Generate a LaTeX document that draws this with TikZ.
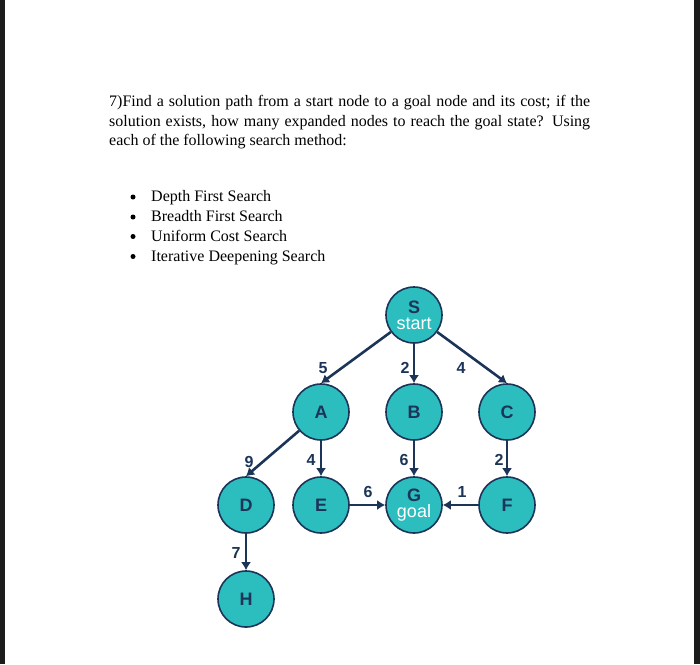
\documentclass[tikz,border=0pt]{standalone}
\usepackage{fontspec}
\setmainfont{Liberation Serif}
\setsansfont{Liberation Sans}
\usetikzlibrary{arrows.meta}
\definecolor{tealfill}{RGB}{44,190,191}
\definecolor{navy}{RGB}{28,52,88}
\definecolor{barcol}{RGB}{28,28,28}
\tikzset{
  txt/.style={anchor=base west, inner sep=0pt, font=\fontsize{16}{19}\selectfont},
  bul/.style={circle, fill=black, minimum size=5pt, inner sep=0pt},
  gn/.style={circle, draw=navy, line width=1.6pt, fill=tealfill, minimum size=56pt, inner sep=0pt,
    text=navy, font=\sffamily\bfseries\fontsize{18}{16}\selectfont, align=center},
  edge/.style={draw=navy, line width=2.6pt, -{Latex[length=8pt,width=10pt]}},
  lab/.style={text=navy, font=\sffamily\bfseries\fontsize{16}{16}\selectfont, inner sep=0pt}
}
\begin{document}
\begin{tikzpicture}[x=1pt,y=-1pt]
\useasboundingbox (0,0) rectangle (700,664);
\fill[barcol] (0,0) rectangle (4.5,664);
\fill[barcol] (694,0) rectangle (700,664);

% question text
\node[txt] (q1) at (109,106.7) {\makebox[481pt][s]{7)Find a solution path from a start node to a goal node and its cost; if the}};
\node[txt] (q2) at (109,126) {\makebox[481pt][s]{solution exists, how many expanded nodes to reach the goal state? Using}};
\node[txt] (q3) at (109,145.3) {each of the following search method:};

\node[bul] (b1) at (133,197) {};
\node[bul] (b2) at (133,217) {};
\node[bul] (b3) at (133,236.5) {};
\node[bul] (b4) at (133,256.5) {};
\node[txt] (t1) at (151,201.7) {Depth First Search};
\node[txt] (t2) at (151,221.7) {Breadth First Search};
\node[txt] (t3) at (151,241) {Uniform Cost Search};
\node[txt] (t4) at (151,261) {Iterative Deepening Search};

% graph
\node[gn] (S) at (414,315) {S\\{\mdseries\color{white}start}};
\node[gn] (A) at (321,412) {A};
\node[gn] (B) at (414,412) {B};
\node[gn] (C) at (507,412) {C};
\node[gn] (D) at (246,505) {D};
\node[gn] (E) at (321,505) {E};
\node[gn] (G) at (414,505) {G\\{\mdseries\color{white}goal}};
\node[gn] (F) at (507,505) {F};
\node[gn] (H) at (246,599) {H};

\draw[edge] (S) -- (A.north) node[lab, at={(323,368)}] {5};
\draw[edge] (S) -- (B) node[lab, at={(405,368)}] {2};
\draw[edge] (S) -- (C.north) node[lab, at={(461,368)}] {4};
\draw[edge] (A) -- (D.north) node[lab, at={(249,462)}] {9};
\draw[edge] (A) -- (E) node[lab, at={(311,460)}] {4};
\draw[edge] (B) -- (G) node[lab, at={(404,460)}] {6};
\draw[edge] (C) -- (F) node[lab, at={(499,460)}] {2};
\draw[edge] (E) -- (G) node[lab, at={(368,492)}] {6};
\draw[edge] (F) -- (G) node[lab, at={(462,492)}] {1};
\draw[edge] (D) -- (H) node[lab, at={(236,553)}] {7};
\end{tikzpicture}
\end{document}
